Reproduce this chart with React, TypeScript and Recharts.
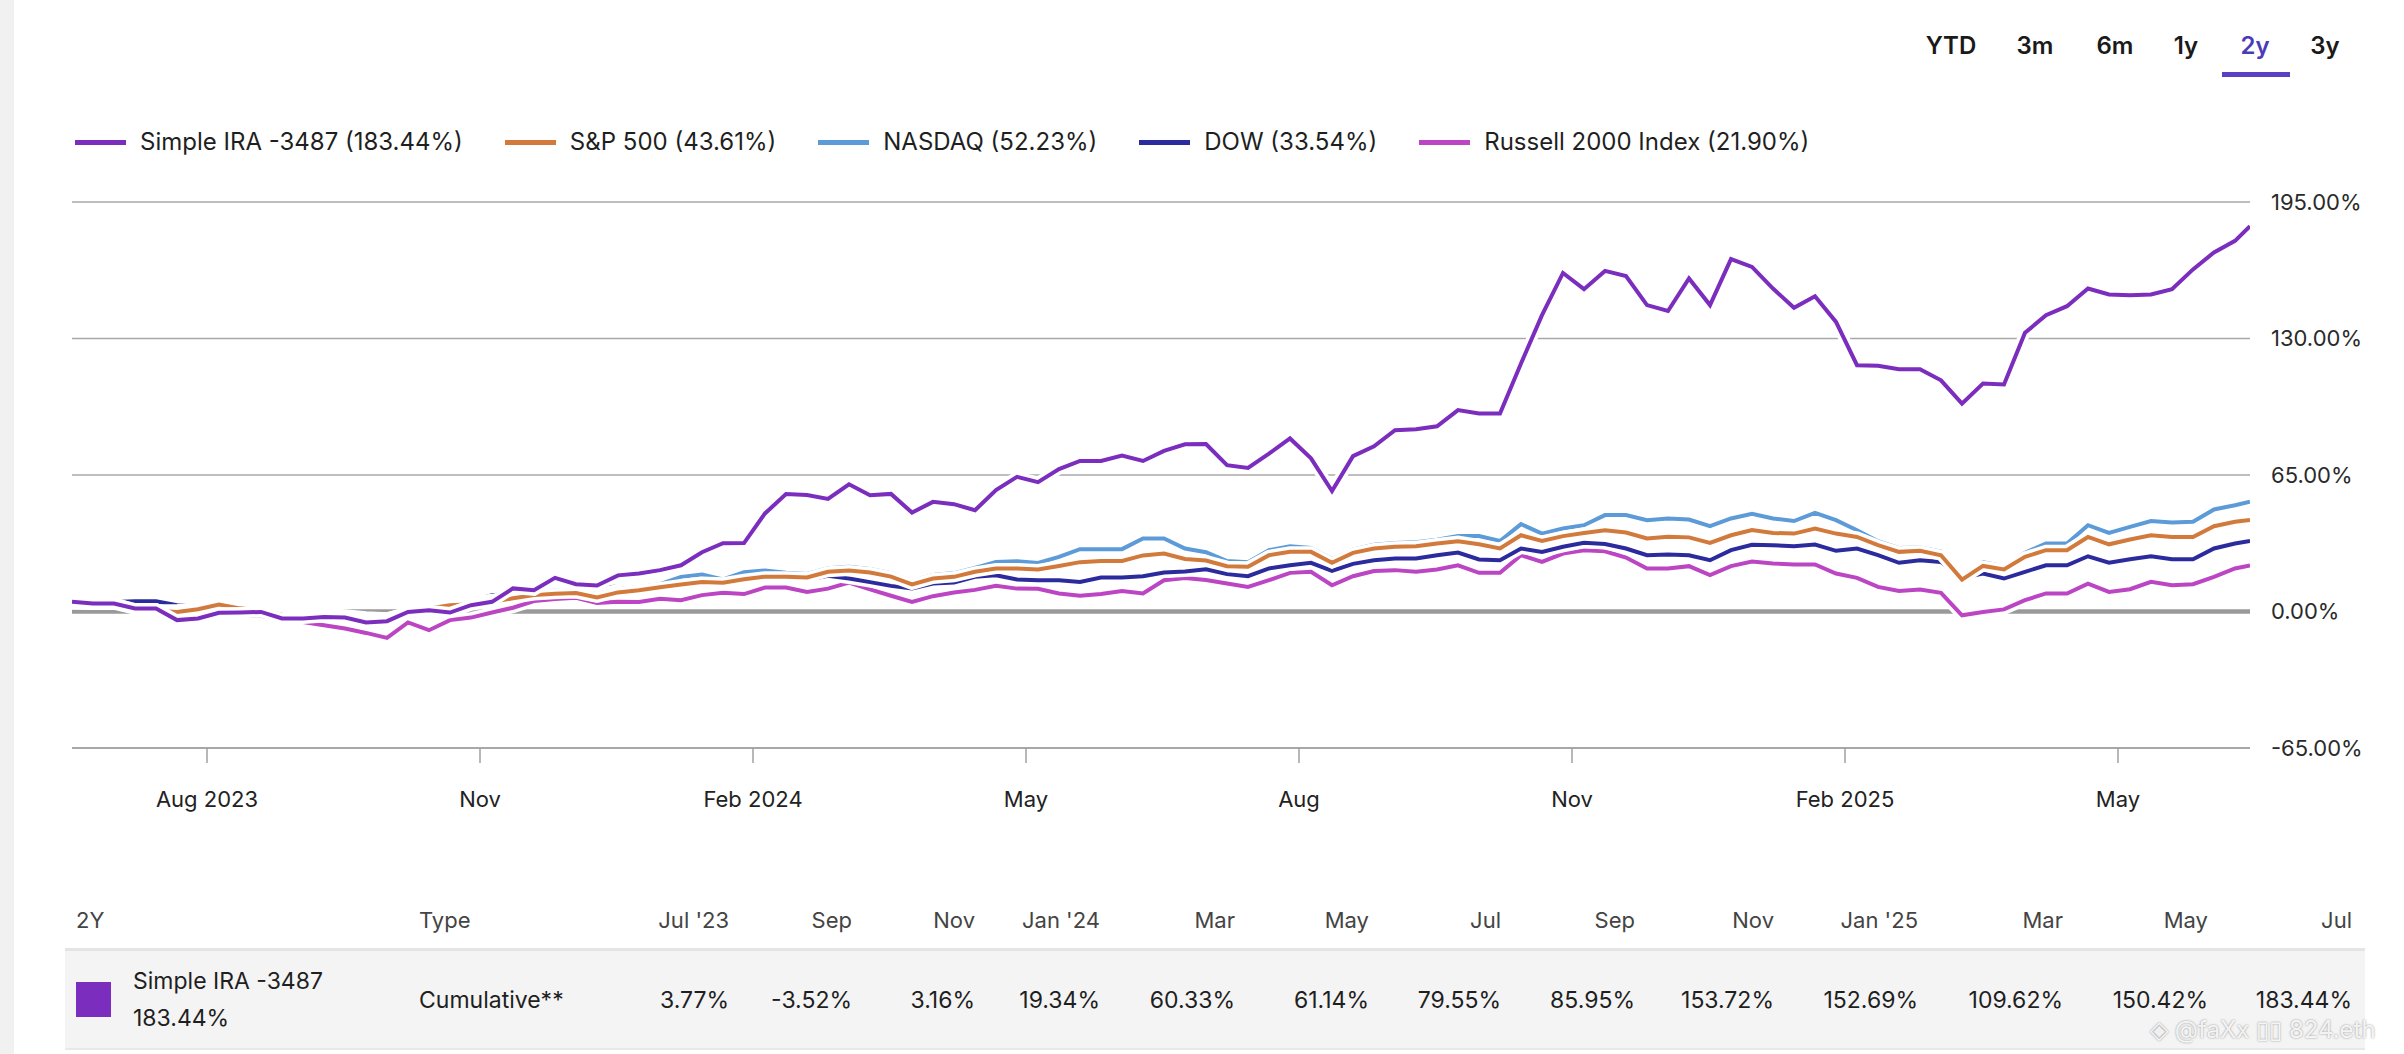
import React from 'react';
import { LineChart, Line, XAxis, YAxis, CartesianGrid, ReferenceLine } from 'recharts';

const dates = [
  '2023-06-23','2023-06-30','2023-07-07','2023-07-14','2023-07-21','2023-07-28','2023-08-04','2023-08-11','2023-08-18','2023-08-25',
  '2023-09-01','2023-09-08','2023-09-15','2023-09-22','2023-09-29','2023-10-06','2023-10-13','2023-10-20','2023-10-27','2023-11-03',
  '2023-11-10','2023-11-17','2023-11-24','2023-12-01','2023-12-08','2023-12-15','2023-12-22','2023-12-29','2024-01-05','2024-01-12',
  '2024-01-19','2024-01-26','2024-02-02','2024-02-09','2024-02-16','2024-02-23','2024-03-01','2024-03-08','2024-03-15','2024-03-22',
  '2024-03-29','2024-04-05','2024-04-12','2024-04-19','2024-04-26','2024-05-03','2024-05-10','2024-05-17','2024-05-24','2024-05-31',
  '2024-06-07','2024-06-14','2024-06-21','2024-06-28','2024-07-05','2024-07-12','2024-07-19','2024-07-26','2024-08-02','2024-08-09',
  '2024-08-16','2024-08-23','2024-08-30','2024-09-06','2024-09-13','2024-09-20','2024-09-27','2024-10-04','2024-10-11','2024-10-18',
  '2024-10-25','2024-11-01','2024-11-08','2024-11-15','2024-11-22','2024-11-29','2024-12-06','2024-12-13','2024-12-20','2024-12-27',
  '2025-01-03','2025-01-10','2025-01-17','2025-01-24','2025-01-31','2025-02-07','2025-02-14','2025-02-21','2025-02-28','2025-03-07',
  '2025-03-14','2025-03-21','2025-03-28','2025-04-04','2025-04-11','2025-04-18','2025-04-25','2025-05-02','2025-05-09','2025-05-16',
  '2025-05-23','2025-05-30','2025-06-06','2025-06-13','2025-06-18',
];

const simpleIra = [
  4.6, 3.8, 3.8, 1.4, 1.4, -4.1, -3.3, -0.6, -0.5, -0.2,
  -3.3, -3.3, -2.6, -2.9, -5.2, -4.6, -0.2, 0.6, -0.5, 3.0,
  4.6, 11.0, 10.1, 16.0, 13.0, 12.4, 17.2, 18.1, 19.7, 22.0,
  28.2, 32.5, 32.6, 46.7, 55.9, 55.5, 53.6, 60.6, 55.4, 56.0,
  47.1, 52.2, 51.1, 48.2, 57.8, 64.1, 61.6, 67.8, 71.7, 71.7,
  74.3, 71.7, 76.5, 79.6, 79.7, 69.7, 68.4, 75.2, 82.4, 72.9,
  57.4, 74.0, 78.7, 86.3, 86.8, 88.2, 95.9, 94.3, 94.3, 118.1,
  141.1, 161.2, 153.5, 162.2, 159.7, 145.9, 143.1, 158.6, 145.9, 167.8,
  164.1, 153.8, 144.6, 150.1, 137.9, 117.3, 117.0, 115.4, 115.4, 110.1,
  99.0, 108.6, 108.1, 132.7, 141.1, 145.4, 153.8, 151.0, 150.6, 151.0,
  153.5, 162.9, 171.0, 176.5, 183.44,
];

const sp500 = [
  3.5, 3.3, 3.5, 1.0, 0.3, -0.2, 1.1, 3.3, 1.5, 0.5,
  -1.5, -2.0, -1.5, -3.0, -4.0, -3.5, -1.0, 1.5, 3.0, 3.5,
  4.6, 6.3, 7.8, 8.5, 8.8, 6.7, 9.1, 10.1, 11.5, 12.9,
  14.1, 13.7, 15.4, 16.6, 16.6, 16.2, 18.9, 19.5, 18.6, 16.6,
  12.9, 15.7, 16.5, 18.9, 20.5, 20.5, 20.0, 21.7, 23.5, 24.1,
  24.1, 26.7, 27.6, 25.0, 24.3, 21.6, 21.3, 26.8, 28.4, 28.4,
  23.2, 27.9, 30.0, 30.8, 31.1, 32.4, 33.5, 32.0, 30.0, 36.3,
  33.6, 35.9, 37.4, 38.7, 37.6, 34.8, 35.6, 35.3, 32.7, 36.3,
  38.8, 37.4, 37.1, 39.5, 37.1, 35.5, 31.6, 28.4, 28.9, 26.8,
  15.2, 21.7, 20.0, 26.0, 29.2, 29.2, 35.5, 32.0, 34.3, 36.3,
  35.5, 35.5, 40.6, 42.7, 43.61,
];

const nasdaq = [
  4.0, 3.6, 4.2, 1.2, 0.8, 0.8, 2.0, 4.0, 2.3, 1.2,
  -0.8, -1.5, -1.0, -2.3, -3.3, -3.0, -0.3, 2.3, 3.8, 4.5,
  5.8, 7.6, 9.2, 10.0, 10.3, 8.2, 10.6, 11.6, 13.0, 16.5,
  17.6, 15.3, 18.7, 19.5, 18.4, 17.9, 20.6, 21.3, 20.3, 18.3,
  14.5, 17.4, 18.3, 20.7, 23.6, 23.9, 23.1, 26.0, 29.7, 29.7,
  29.7, 34.8, 34.8, 30.0, 28.2, 24.0, 23.5, 29.2, 31.1, 30.2,
  25.0, 29.5, 31.8, 32.6, 33.0, 34.2, 35.9, 35.9, 33.6, 41.6,
  37.1, 39.5, 41.1, 45.9, 45.9, 43.5, 44.3, 43.8, 40.6, 44.3,
  46.5, 44.3, 43.1, 47.0, 43.5, 38.7, 33.5, 30.2, 30.5, 28.5,
  16.5, 23.5, 21.5, 28.0, 32.4, 32.4, 41.1, 37.4, 40.3, 43.1,
  42.4, 42.7, 48.6, 50.6, 52.23,
];

const dow = [
  4.5, 4.0, 4.5, 4.9, 4.9, 3.0, 2.5, 2.5, 1.5, 1.5,
  0.5, -0.5, -0.8, -1.5, -2.5, -3.0, -0.5, 2.0, 3.5, 5.0,
  7.8, 8.5, 9.5, 10.0, 10.5, 10.8, 12.0, 9.3, 10.5, 11.8,
  13.0, 12.6, 14.2, 15.4, 15.5, 15.0, 17.0, 15.7, 14.0, 12.2,
  11.0, 13.3, 13.8, 16.5, 17.3, 15.2, 14.9, 14.9, 14.1, 16.2,
  16.2, 16.8, 18.6, 19.1, 20.1, 17.8, 16.8, 20.5, 22.0, 23.2,
  19.3, 22.7, 24.4, 25.2, 25.2, 26.8, 28.1, 24.8, 24.4, 30.0,
  28.4, 30.8, 32.7, 32.1, 30.0, 26.8, 27.1, 26.8, 24.4, 29.2,
  31.8, 31.6, 31.1, 31.9, 28.9, 30.0, 26.8, 23.2, 24.4, 23.6,
  16.0, 18.1, 15.7, 18.9, 22.0, 22.0, 26.3, 23.2, 24.9, 26.3,
  24.9, 24.9, 30.0, 32.4, 33.54,
];

const russell = [
  4.0, 3.5, 4.0, 1.5, 1.2, -3.0, -2.5, -1.0, -1.5, -2.0,
  -4.0, -5.0, -6.5, -8.1, -10.2, -12.6, -5.2, -8.9, -4.1, -2.9,
  -0.5, 1.8, 5.0, 6.0, 6.5, 4.1, 4.6, 4.5, 6.1, 5.4,
  7.8, 8.9, 8.3, 11.4, 11.4, 9.3, 10.9, 13.8, 10.5, 7.5,
  4.6, 7.3, 9.0, 10.3, 12.2, 10.9, 10.8, 8.6, 7.5, 8.3,
  9.7, 8.6, 14.9, 16.0, 15.0, 13.3, 11.7, 14.9, 18.4, 18.9,
  12.5, 16.8, 19.3, 19.7, 18.9, 20.0, 22.0, 18.4, 18.4, 26.8,
  23.6, 27.6, 29.2, 28.7, 25.7, 20.5, 20.5, 21.6, 17.3, 21.6,
  23.8, 22.9, 22.4, 22.4, 18.1, 16.0, 11.7, 9.8, 10.5, 8.9,
  -1.8, -0.2, 1.0, 5.4, 8.6, 8.6, 13.3, 9.3, 10.6, 14.1,
  12.5, 13.0, 16.5, 20.5, 21.90,
];

const seriesKeys = ['ira', 'sp', 'nasdaq', 'dow', 'russell'];
const seriesNames = [
  'Simple IRA -3487 (183.44%)',
  'S&P 500 (43.61%)',
  'NASDAQ (52.23%)',
  'DOW (33.54%)',
  'Russell 2000 Index (21.90%)',
];
const seriesColors = ['#7B2DBD', '#D27A3C', '#5C9BD8', '#2C2B9E', '#BC45C4'];

const xTickDates = ['2023-08-07', '2023-11-06', '2024-02-05', '2024-05-06', '2024-08-05', '2024-11-04', '2025-02-03', '2025-05-05'];
const xTickLabels = ['Aug 2023', 'Nov', 'Feb 2024', 'May', 'Aug', 'Nov', 'Feb 2025', 'May'];
const yTicks = [-65, 0, 65, 130, 195];

const rangeButtons = ['YTD', '3m', '6m', '1y', '2y', '3y'];
const activeRange = '2y';

const tableTitle = '2Y';
const tableTypeHeader = 'Type';
const tableMonths = ["Jul '23", 'Sep', 'Nov', "Jan '24", 'Mar', 'May', 'Jul', 'Sep', 'Nov', "Jan '25", 'Mar', 'May', 'Jul'];
const tableRowName = 'Simple IRA -3487';
const tableRowTotal = '183.44%';
const tableRowType = 'Cumulative**';
const tableValues = ['3.77%', '-3.52%', '3.16%', '19.34%', '60.33%', '61.14%', '79.55%', '85.95%', '153.72%', '152.69%', '109.62%', '150.42%', '183.44%'];

// layout (pixel) constants
const buttonCenters = [1951, 2035, 2115, 2186, 2255, 2325];
const colRightEdges = [729, 852, 975, 1100, 1235, 1369, 1501, 1635, 1774, 1918, 2063, 2208, 2352];

const FONT = 'Inter, "Liberation Sans", Arial, sans-serif';

const rows = dates.map((d, i) => ({
  t: Date.parse(d),
  ira: simpleIra[i],
  sp: sp500[i],
  nasdaq: nasdaq[i],
  dow: dow[i],
  russell: russell[i],
}));
const xTicks = xTickDates.map((d) => Date.parse(d));
const xLabelFor = (v: number) => {
  const k = xTicks.indexOf(v);
  return k >= 0 ? xTickLabels[k] : '';
};

const drawOrder = [4, 3, 2, 1, 0];

export default function App() {
  return (
    <div
      style={{
        position: 'absolute',
        left: 0,
        top: 0,
        width: 2404,
        height: 1054,
        overflow: 'hidden',
        background: '#fff',
        fontFamily: FONT,
        color: '#1f1f1f',
      }}
    >
      <div style={{ position: 'absolute', left: 0, top: 0, width: 14, height: 1054, background: '#f1f1f1' }} />

      {rangeButtons.map((b, i) => (
        <div
          key={b}
          style={{
            position: 'absolute',
            left: buttonCenters[i],
            top: 34,
            transform: 'translateX(-50%)',
            fontSize: 24,
            lineHeight: '24px',
            fontWeight: 600,
            color: b === activeRange ? '#4B3BB8' : '#1a1a1a',
            whiteSpace: 'nowrap',
          }}
        >
          {b}
        </div>
      ))}
      <div style={{ position: 'absolute', left: 2222, top: 72, width: 68, height: 5, background: '#5B40C6' }} />

      <div style={{ position: 'absolute', left: 75, top: 130, display: 'flex', alignItems: 'center', height: 24 }}>
        {seriesNames.map((n, i) => (
          <div key={n} style={{ display: 'flex', alignItems: 'center', marginRight: 42 }}>
            <div style={{ width: 51, height: 5, background: seriesColors[i], marginRight: 14 }} />
            <span style={{ fontSize: 24, lineHeight: '24px', color: '#1f1f1f', whiteSpace: 'nowrap' }}>{n}</span>
          </div>
        ))}
      </div>

      <div style={{ position: 'absolute', left: 0, top: 0 }}>
        <LineChart width={2404} height={828} data={rows} margin={{ top: 202, right: 0, left: 72, bottom: 0 }}>
          <CartesianGrid vertical={false} stroke="#a8a8a8" strokeWidth={1.5} />
          <XAxis
            dataKey="t"
            type="number"
            domain={[rows[0].t, rows[rows.length - 1].t]}
            ticks={xTicks}
            interval={0}
            tickFormatter={xLabelFor}
            tickSize={15}
            tickMargin={28}
            height={80}
            axisLine={{ stroke: '#a0a0a0', strokeWidth: 1.5 }}
            tickLine={{ stroke: '#a0a0a0', strokeWidth: 1.5 }}
            tick={{ fill: '#222', fontSize: 22, fontFamily: FONT }}
            allowDataOverflow
          />
          <YAxis
            orientation="right"
            domain={[-65, 195]}
            ticks={yTicks}
            interval={0}
            tickFormatter={(v: number) => `${v.toFixed(2)}%`}
            axisLine={false}
            tickLine={false}
            tickSize={0}
            tickMargin={21}
            width={154}
            tick={{ fill: '#2a2a2a', fontSize: 22, fontFamily: FONT, textAnchor: 'start' }}
            allowDataOverflow
          />
          <ReferenceLine y={0} stroke="#9a9a9a" strokeWidth={4.5} ifOverflow="visible" zIndex={-50} />
          {drawOrder.map((s) => [
            <Line
              key={`${seriesKeys[s]}-halo`}
              dataKey={seriesKeys[s]}
              type="linear"
              stroke="#ffffff"
              strokeWidth={11}
              dot={false}
              activeDot={false}
              isAnimationActive={false}
            />,
            <Line
              key={seriesKeys[s]}
              dataKey={seriesKeys[s]}
              type="linear"
              stroke={seriesColors[s]}
              strokeWidth={4}
              dot={false}
              activeDot={false}
              isAnimationActive={false}
            />,
          ])}
        </LineChart>
      </div>

      {/* table */}
      <div style={{ position: 'absolute', left: 76, top: 909, fontSize: 22, lineHeight: '23px', color: '#444' }}>{tableTitle}</div>
      <div style={{ position: 'absolute', left: 419, top: 909, fontSize: 22, lineHeight: '23px', color: '#444' }}>{tableTypeHeader}</div>
      {tableMonths.map((m, i) => (
        <div
          key={`h${i}`}
          style={{
            position: 'absolute',
            right: 2404 - colRightEdges[i],
            top: 909,
            fontSize: 22,
            lineHeight: '23px',
            color: '#444',
            whiteSpace: 'nowrap',
          }}
        >
          {m}
        </div>
      ))}
      <div style={{ position: 'absolute', left: 65, top: 948, width: 2300, height: 3, background: '#e4e4e4' }} />
      <div style={{ position: 'absolute', left: 65, top: 951, width: 2300, height: 97, background: '#f4f4f4' }} />
      <div style={{ position: 'absolute', left: 65, top: 1048, width: 2300, height: 2, background: '#e8e8e8' }} />
      <div style={{ position: 'absolute', left: 76, top: 982, width: 35, height: 35, background: seriesColors[0] }} />
      <div style={{ position: 'absolute', left: 133, top: 970, fontSize: 23, lineHeight: '23px', color: '#1f1f1f' }}>{tableRowName}</div>
      <div style={{ position: 'absolute', left: 133, top: 1007, fontSize: 23, lineHeight: '23px', color: '#1f1f1f' }}>{tableRowTotal}</div>
      <div style={{ position: 'absolute', left: 419, top: 989, fontSize: 23, lineHeight: '23px', color: '#1f1f1f' }}>{tableRowType}</div>
      {tableValues.map((v, i) => (
        <div
          key={`v${i}`}
          style={{
            position: 'absolute',
            right: 2404 - colRightEdges[i],
            top: 989,
            fontSize: 23,
            lineHeight: '23px',
            color: '#1f1f1f',
            whiteSpace: 'nowrap',
          }}
        >
          {v}
        </div>
      ))}
      <div
        style={{
          position: 'absolute',
          left: 2150,
          top: 1018,
          fontSize: 24,
          lineHeight: '24px',
          color: 'rgba(255,255,255,0.9)',
          textShadow: '0 0 2px rgba(90,90,90,0.7)',
          whiteSpace: 'nowrap',
        }}
      >
        ◈ @faXx ▯▯ 824.eth
      </div>
    </div>
  );
}
